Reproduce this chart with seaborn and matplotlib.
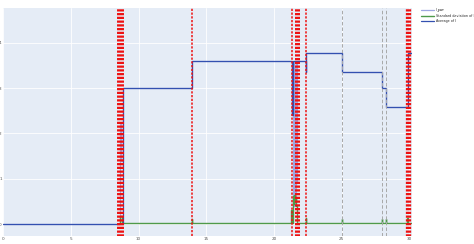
import matplotlib
matplotlib.use("Agg")
import matplotlib.pyplot as plt
import seaborn as sns

# ---- data ----
t_pwr = [0, 8.60, 8.66, 8.72, 8.86, 13.95, 21.37, 21.42, 21.46, 21.50, 21.54, 21.58,
         21.62, 21.66, 21.70, 22.36, 22.40, 25.04, 27.97, 28.29, 29.89, 30.2]
i_pwr = [0, 0.9, 2.2, 1.4, 3.0, 3.6, 2.4, 0.5, 3.6, 0.4, 3.5, 0.6,
         3.6, 0.9, 3.6, 3.35, 3.78, 3.36, 3.0, 2.58, 3.78, 3.78]

t_avg = [0, 8.86, 13.95, 21.37, 21.42, 22.36, 22.40, 25.04, 27.97, 28.29, 29.89, 30.2]
i_avg = [0, 3.0, 3.6, 2.4, 3.6, 3.35, 3.78, 3.36, 3.0, 2.58, 3.78, 3.78]

t_std = [8.60, 8.62, 8.75, 13.92, 13.97, 21.28, 21.32, 21.40, 21.45, 21.50, 21.55,
         21.60, 21.65, 21.72, 22.34, 22.39, 25.02, 25.06, 27.95, 27.99, 28.27, 28.31,
         29.86, 29.92, 30.2]
i_std = [0.02, 0.18, 0.02, 0.12, 0.02, 0.30, 0.02, 0.62, 0.45, 0.64, 0.50,
         0.60, 0.40, 0.02, 0.14, 0.02, 0.12, 0.02, 0.12, 0.02, 0.12, 0.02,
         0.14, 0.02, 0.02]

thick_red_x = [8.66, 21.68, 29.89]
thick_red_w = [5.0, 3.6, 3.8]
thin_red_x = [13.95, 21.37, 22.36]
grey_x = [25.04, 27.97, 28.29]

x_ticks = [0, 5, 10, 15, 20, 25, 30]
y_ticks = [0, 1, 2, 3, 4]

# ---- figure ----
sns.set_theme(style="darkgrid")
plt.rcParams["font.family"] = ["DejaVu Sans"]
plt.rcParams["lines.scale_dashes"] = False

fig = plt.figure(figsize=(4.74, 2.44), dpi=100)
fig.patch.set_facecolor("white")
ax = fig.add_axes([3 / 474, 1 - 236 / 244, (412 - 3) / 474, (236 - 8) / 244])
ax.set_facecolor("#e5ecf6")

sns.lineplot(x=t_pwr, y=i_pwr, ax=ax, drawstyle="steps-post", color="#9ea6e0",
             linewidth=0.9, label="I_pwr", estimator=None, sort=False)
sns.lineplot(x=t_std, y=i_std, ax=ax, drawstyle="steps-post", color="#4f9a4a",
             linewidth=1.0, label="Standard deviation of I", estimator=None, sort=False)
sns.lineplot(x=t_avg, y=i_avg, ax=ax, drawstyle="steps-post", color="#3350b0",
             linewidth=0.9, label="Average of I", estimator=None, sort=False)

for x, w in zip(thick_red_x, thick_red_w):
    ax.axvline(x, color="#ee1111", linewidth=w, linestyle=(0, (1.6, 1.1)), zorder=5)
for x in thin_red_x:
    ax.axvline(x, color="#ee1111", linewidth=1.1, linestyle=(0, (1.6, 1.1)), zorder=5)
for x in grey_x:
    ax.axvline(x, color="#a8a8a8", linewidth=0.7, linestyle=(0, (2.5, 1.5)), zorder=4)

ax.set_xlim(-0.02, 30.2)
ax.set_ylim(-0.265, 4.77)
ax.set_xticks(x_ticks)
ax.set_yticks(y_ticks)
ax.set_xticklabels([str(v) for v in x_ticks])
ax.set_yticklabels([str(v) for v in y_ticks])
ax.tick_params(axis="both", length=0, labelsize=3, colors="#555555", pad=1)
ax.grid(True, color="white", linewidth=0.6)
for s in ax.spines.values():
    s.set_visible(False)
ax.set_xlabel("")
ax.set_ylabel("")

ax.get_legend().remove()
handles, labels = ax.get_legend_handles_labels()
fig.legend(handles, labels, loc="upper left", bbox_to_anchor=(420 / 474, 1 - 7 / 244),
           frameon=False, fontsize=2.4, handlelength=3.8, handletextpad=0.6,
           labelspacing=0.45, borderaxespad=0)

fig.savefig("out.png", dpi=100)
